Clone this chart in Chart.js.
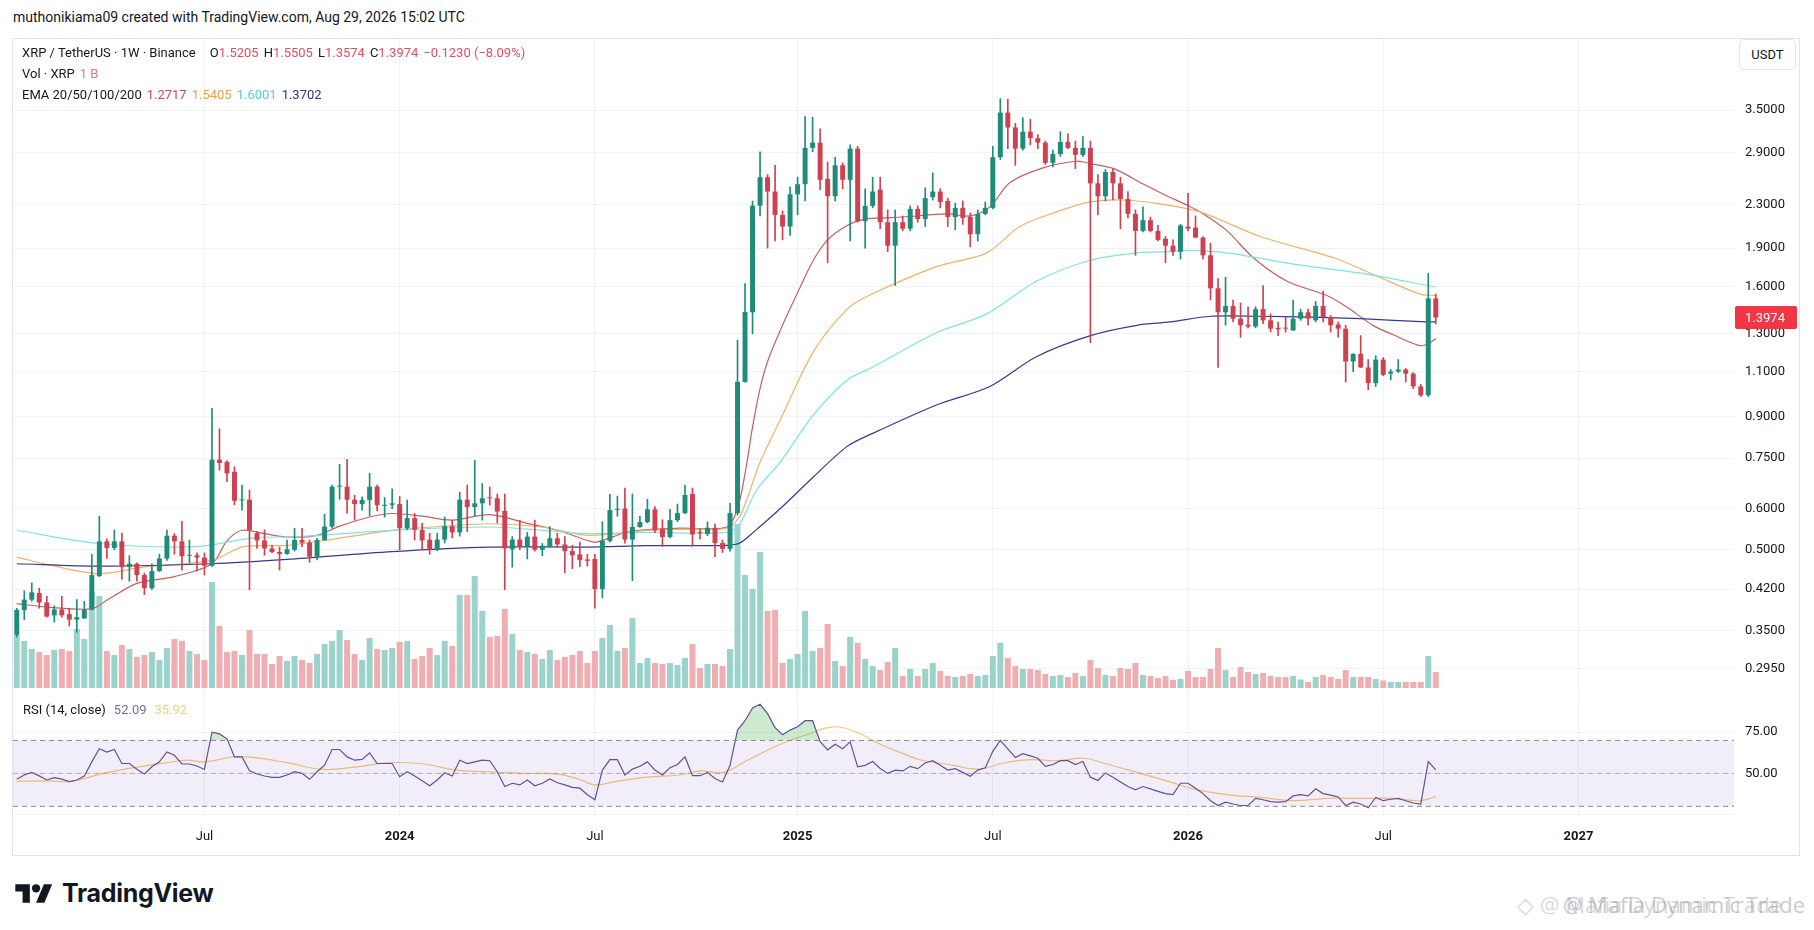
<!DOCTYPE html>
<html>
<head>
<meta charset="utf-8">
<script src="https://cdn.jsdelivr.net/npm/chart.js@4.4.1/dist/chart.umd.min.js"></script>
<style>
  body { margin: 0; background: #fff; font-family: Roboto, sans-serif; color: #131722; overflow: hidden; }
  .abs { position: absolute; white-space: nowrap; }
  #title { left: 13px; top: 9px; font-size: 14px; line-height: 17px; }
  #frame { left: 12px; top: 38px; width: 1786px; height: 816px; border: 1px solid #e0e3eb; }
  #price { left: 13px; top: 39px; }
  #rsi { left: 13px; top: 698px; }
  .leg { left: 22px; font-size: 13px; line-height: 16px; }
  .leg span { margin-left: 5px; }
  .dn { color: #e0505f; }
  #usdt { left: 1739px; top: 39px; width: 55px; height: 29px; border: 1px solid #e0e3eb; border-radius: 5px;
          background: #fff; font-size: 13px; line-height: 29px; text-align: center; }
  #logo { left: 15px; top: 878px; display: flex; align-items: center; }
  #logo b { font-family: Inter, sans-serif; font-weight: 700; font-size: 25px; margin-left: 9px; letter-spacing: -0.3px; }
  .wm { top: 890px; font-size: 22px; line-height: 28px; color: rgba(150,150,150,0.5); font-family: "Open Sans", sans-serif; }
</style>
</head>
<body>
<div id="title" class="abs">muthonikiama09 created with TradingView.com, Aug 29, 2026 15:02 UTC</div>
<div id="frame" class="abs"></div>
<canvas id="price" class="abs" width="1787" height="655"></canvas>
<canvas id="rsi" class="abs" width="1787" height="158"></canvas>
<div class="abs leg" style="top:45px">XRP / TetherUS · 1W · Binance<span style="margin-left:14px">O<b class="dn" style="font-weight:400">1.5205</b></span><span>H<b class="dn" style="font-weight:400">1.5505</b></span><span>L<b class="dn" style="font-weight:400">1.3574</b></span><span>C<b class="dn" style="font-weight:400">1.3974</b></span><span class="dn">−0.1230 (−8.09%)</span></div>
<div class="abs leg" style="top:66px">Vol · XRP<span style="color:#e07a85">1 B</span></div>
<div class="abs leg" style="top:87px">EMA 20/50/100/200<span style="color:#c84a55">1.2717</span><span style="color:#e8a24e">1.5405</span><span style="color:#4fd0d8">1.6001</span><span style="color:#2d3180">1.3702</span></div>
<div class="abs leg" style="top:702px;left:23px">RSI (14, close)<span style="color:#7a6d9e;margin-left:8px">52.09</span><span style="color:#f2cf7a;margin-left:8px">35.92</span></div>
<div id="usdt" class="abs">USDT</div>
<div id="logo" class="abs">
  <svg width="38" height="27" viewBox="0 0 36 26"><path d="M14 22H7V11H0V4h14v18z" fill="#131722"/><circle cx="20" cy="8" r="4" fill="#131722"/><path d="M28 22h-8l7.5-18h8L28 22z" fill="#131722"/></svg>
  <b>TradingView</b>
</div>
<div class="abs wm" style="left:1517px;color:rgba(150,150,150,0.38)">◇ @ Mafia Dynamic Trade</div>
<div class="abs wm" style="right:9px">@ Mafia Dynamic Trade</div>

<script>
// weekly candles, XRP/USDT, from week of 9 Jan 2023 (index 0) to 24 Aug 2026 (index 189)
const opens = [
  0.343,0.383,0.401,0.413,0.396,0.374,0.384,0.376,0.367,0.369,
  0.384,0.445,0.519,0.504,0.519,0.463,0.470,0.447,0.422,0.455,
  0.481,0.532,0.519,0.487,0.488,0.483,0.466,0.745,0.737,0.706,
  0.622,0.624,0.538,0.521,0.503,0.495,0.491,0.500,0.522,0.516,
  0.485,0.522,0.554,0.661,0.661,0.624,0.612,0.623,0.661,0.607,
  0.610,0.612,0.550,0.575,0.546,0.523,0.500,0.523,0.555,0.540,
  0.624,0.604,0.614,0.630,0.628,0.594,0.501,0.523,0.506,0.530,
  0.500,0.507,0.526,0.512,0.497,0.490,0.479,0.480,0.420,0.520,
  0.596,0.600,0.523,0.553,0.565,0.598,0.548,0.529,0.570,0.588,
  0.640,0.540,0.536,0.551,0.515,0.502,0.588,1.050,1.430,2.292,
  2.600,2.440,2.200,2.090,2.410,2.520,2.960,3.030,2.580,2.390,
  2.740,2.570,2.950,2.140,2.290,2.460,2.130,1.920,2.130,2.070,
  2.260,2.160,2.380,2.440,2.340,2.180,2.270,2.180,2.020,2.210,
  2.270,2.840,3.460,3.240,2.950,3.180,3.090,3.030,2.770,2.880,
  3.040,2.960,2.870,2.960,2.530,2.390,2.660,2.530,2.360,2.210,
  2.050,2.150,2.050,1.980,1.920,1.870,2.090,2.080,1.990,1.840,
  1.590,1.430,1.470,1.390,1.354,1.343,1.450,1.380,1.335,1.335,
  1.320,1.390,1.430,1.380,1.470,1.400,1.355,1.330,1.150,1.190,
  1.120,1.045,1.160,1.090,1.100,1.110,1.090,1.030,0.990,1.5205
];
const highs = [
  0.386,0.417,0.432,0.422,0.407,0.390,0.407,0.386,0.401,0.398,
  0.490,0.580,0.525,0.546,0.538,0.487,0.472,0.451,0.470,0.490,
  0.546,0.537,0.567,0.522,0.493,0.493,0.935,0.854,0.742,0.722,
  0.666,0.651,0.542,0.546,0.510,0.506,0.522,0.550,0.550,0.522,
  0.526,0.585,0.666,0.730,0.746,0.636,0.632,0.701,0.666,0.630,
  0.655,0.633,0.623,0.587,0.562,0.538,0.538,0.578,0.570,0.645,
  0.666,0.743,0.670,0.660,0.640,0.640,0.530,0.570,0.540,0.570,
  0.514,0.554,0.538,0.530,0.510,0.517,0.490,0.490,0.566,0.639,
  0.634,0.657,0.640,0.580,0.625,0.605,0.571,0.598,0.612,0.665,
  0.657,0.549,0.566,0.560,0.522,0.614,1.264,1.624,2.340,2.910,
  2.630,2.740,2.240,2.490,2.600,3.400,3.390,3.220,2.780,2.840,
  2.770,3.000,2.980,2.470,2.600,2.600,2.250,2.250,2.190,2.290,
  2.290,2.480,2.650,2.470,2.370,2.320,2.340,2.220,2.250,2.330,
  2.980,3.680,3.670,3.300,3.380,3.360,3.140,3.050,2.930,3.180,
  3.150,3.050,3.110,3.050,2.630,2.690,2.700,2.600,2.440,2.250,
  2.280,2.180,2.100,2.000,1.970,2.110,2.420,2.190,2.000,1.940,
  1.660,1.670,1.510,1.490,1.465,1.465,1.610,1.420,1.370,1.400,
  1.510,1.450,1.450,1.500,1.570,1.410,1.370,1.350,1.190,1.290,
  1.160,1.180,1.170,1.110,1.160,1.115,1.095,1.040,1.700,1.5505
];
const lows = [
  0.340,0.367,0.398,0.386,0.371,0.363,0.371,0.357,0.347,0.369,
  0.383,0.444,0.481,0.500,0.439,0.435,0.435,0.410,0.419,0.454,
  0.477,0.490,0.457,0.472,0.455,0.447,0.464,0.711,0.676,0.610,
  0.596,0.419,0.503,0.488,0.493,0.457,0.490,0.497,0.507,0.473,
  0.478,0.521,0.550,0.625,0.588,0.570,0.596,0.581,0.594,0.578,
  0.600,0.500,0.546,0.522,0.500,0.490,0.498,0.515,0.527,0.531,
  0.542,0.581,0.570,0.609,0.563,0.419,0.463,0.500,0.480,0.497,
  0.487,0.505,0.505,0.452,0.460,0.464,0.465,0.386,0.404,0.517,
  0.580,0.515,0.436,0.552,0.563,0.539,0.507,0.527,0.566,0.586,
  0.508,0.524,0.532,0.485,0.494,0.497,0.583,1.050,1.300,2.190,
  1.900,1.960,1.970,2.010,2.200,2.340,2.910,2.460,1.780,2.340,
  2.470,1.960,2.130,1.900,2.270,2.070,1.870,1.610,2.050,2.050,
  2.130,2.090,2.350,2.270,2.090,2.060,2.110,1.910,1.960,2.200,
  2.260,2.810,2.950,2.740,2.930,3.000,2.950,2.750,2.720,2.850,
  2.950,2.700,2.850,1.250,2.200,2.340,2.350,2.070,2.170,1.840,
  2.040,2.040,1.960,1.780,1.840,1.810,2.050,1.990,1.810,1.510,
  1.120,1.350,1.370,1.280,1.335,1.335,1.360,1.310,1.290,1.310,
  1.320,1.380,1.350,1.370,1.370,1.310,1.280,1.050,1.100,1.120,
  1.015,1.030,1.080,1.060,1.095,1.050,1.020,0.985,0.985,1.3574
];
const closes = [
  0.383,0.401,0.414,0.396,0.372,0.384,0.374,0.367,0.371,0.384,
  0.447,0.519,0.504,0.519,0.463,0.470,0.447,0.422,0.455,0.481,
  0.532,0.519,0.486,0.488,0.483,0.466,0.745,0.734,0.701,0.621,
  0.624,0.546,0.521,0.503,0.495,0.491,0.501,0.522,0.516,0.485,
  0.522,0.554,0.661,0.663,0.624,0.612,0.623,0.661,0.609,0.610,
  0.614,0.550,0.575,0.546,0.521,0.500,0.523,0.555,0.540,0.624,
  0.604,0.614,0.628,0.628,0.592,0.503,0.523,0.507,0.530,0.500,
  0.509,0.526,0.512,0.497,0.488,0.478,0.476,0.420,0.520,0.596,
  0.598,0.523,0.553,0.565,0.598,0.545,0.529,0.570,0.588,0.637,
  0.535,0.538,0.551,0.515,0.502,0.588,1.052,1.432,2.292,2.600,
  2.440,2.200,2.090,2.410,2.520,2.960,3.030,2.570,2.390,2.740,
  2.570,2.950,2.140,2.290,2.440,2.130,1.920,2.130,2.070,2.260,
  2.160,2.370,2.440,2.330,2.180,2.270,2.170,2.020,2.210,2.270,
  2.840,3.460,3.240,2.950,3.180,3.090,3.030,2.770,2.880,3.040,
  2.960,2.870,2.960,2.530,2.390,2.660,2.530,2.360,2.210,2.050,
  2.150,2.050,1.970,1.920,1.870,2.100,2.070,1.990,1.840,1.590,
  1.430,1.470,1.390,1.350,1.343,1.450,1.380,1.330,1.326,1.330,
  1.390,1.430,1.390,1.470,1.400,1.350,1.330,1.150,1.190,1.120,
  1.045,1.160,1.084,1.100,1.110,1.090,1.030,0.990,1.5205,1.3974
];
// volume, billions of XRP
const volumes = [
  5.3,4.7,3.9,3.6,3.3,3.8,3.9,3.7,5.9,4.9,
  9.6,9.2,3.7,3.3,4.3,3.9,3.1,3.3,3.6,2.8,
  4.0,4.9,4.7,3.7,3.4,2.8,10.6,6.2,3.6,3.7,
  3.3,5.8,3.4,3.4,2.4,3.2,2.7,3.2,2.8,2.5,
  3.4,4.4,4.7,5.8,4.8,3.4,2.8,5.0,3.9,3.8,
  4.0,4.6,4.7,2.9,3.2,4.0,3.3,4.7,4.2,9.3,
  9.3,11.2,7.7,5.1,5.2,7.9,5.4,3.8,3.6,3.4,
  2.9,3.8,2.8,3.1,3.3,3.7,2.5,3.7,5.0,6.3,
  3.7,4.0,7.0,2.5,3.0,2.5,2.4,2.5,2.3,3.0,
  4.4,2.0,2.4,2.4,2.2,3.9,16.4,11.3,9.9,13.6,
  7.7,7.8,2.5,2.9,3.4,7.7,3.7,4.0,6.4,2.7,
  2.2,5.1,4.5,2.9,2.2,1.8,2.6,4.0,1.2,1.9,
  1.2,1.9,2.5,1.7,1.2,1.1,1.2,1.4,1.2,1.3,
  3.2,4.5,3.0,2.2,1.9,1.9,1.8,1.4,1.2,1.3,
  1.1,1.5,1.2,2.8,2.0,1.3,1.2,2.0,1.9,2.5,
  1.3,1.2,1.0,1.2,0.8,0.9,1.7,1.1,1.1,1.9,
  4.0,1.8,1.1,2.1,1.6,1.4,1.5,1.2,1.1,1.1,
  1.2,0.85,0.6,1.1,1.3,1.1,0.9,1.8,1.1,1.1,
  1.1,0.9,0.75,0.6,0.6,0.6,0.6,0.6,3.2,1.6
];
// RSI(14) per candle
const rsi = [
  46.4,49,50.6,48.5,46,47.4,46.5,45,46,48.4,
  57,65,63,64.5,56,56,52.5,49.6,54,57,
  63,61,55.7,55.7,54.5,52.4,75,74,71,60,
  60,51.6,49.6,48.4,47.6,47.6,49,51,50,46.4,
  51,55,64.5,64.5,60,58,58.5,62.5,56,56,
  56,48,51,48.4,45.5,42.5,46,50.4,48.4,58,
  56,57,58,57.7,51,42,44,43,46,42.5,
  44,46.6,44.3,43,41.5,41,37,34,52,58.3,
  58.3,49,52.6,54.3,57,52,49,53.4,55.4,60,
  48.6,48.6,50.6,46.9,44.8,54.9,76.3,82,89.8,92,
  86.3,77.8,73.5,76.3,78.3,82,82,69.2,64.3,67.7,
  64.9,69.2,54,54.9,57.2,53,50,52,51.5,54.3,
  52.9,56.3,57.7,54.9,52,52.9,50.6,48.3,52,53.4,
  63.4,70,64.9,59.7,62,60.6,59.2,54.3,55.4,57.7,
  57.7,55.4,57.2,47.7,45.7,50.3,47.7,44.8,42,40,
  42,40.6,39.1,37.7,37.1,44,44,41,37.7,33.4,
  30.5,32.5,31.4,30.5,30.5,34.8,34,32.8,32.5,32.8,
  36.3,37.1,36.3,40.6,37.7,36.8,35.7,30.5,32.5,31.4,
  29.1,35.4,33.4,34.3,34.8,33.4,32,31.4,57.2,52.09
];
// RSI moving average, read at [candle index, value]
const rsiMa = [
  [0,45.2],[4.1,45.4],[7.1,45],[9.1,47],[11.1,49.6],[15,53],[20,56.5],[22.7,58],[25,57],[28.9,60],
  [31.5,59.7],[36,56.5],[40.8,52.4],[45.3,54],[49.7,56.5],[54.2,55.7],[58.6,52],[63,51],[67.5,50],[72,49.6],
  [75,46.3],[77,43],[79.5,44.8],[83.9,47.7],[88.3,49],[91,51.5],[94.1,50.6],[97.2,57.7],[101.7,67.7],[105.2,73.5],
  [108.8,78.3],[111.9,75],[115,67.7],[118.1,62],[120.3,58.3],[124.8,54.9],[127,52.9],[128.8,52.9],[131.4,56.3],[135,58.3],
  [138.5,57.7],[142.1,59.2],[144.7,56.3],[149.2,50.6],[153.6,44.8],[156.7,40.6],[161.2,37.1],[165.6,35.4],[170,33.4],[174.5,34.8],
  [178.9,34.8],[183.4,34.8],[186.9,33.4],[189,35.92]
];
// EMA lines, read at [candle index, price]
const ema20 = [
  [0,0.394],[4,0.388],[10,0.385],[12,0.400],[16,0.431],[21,0.444],[26,0.470],[28,0.52],[30,0.545],[33,0.537],
  [36,0.529],[40,0.533],[43,0.555],[47,0.578],[50,0.587],[54,0.58],[58,0.570],[63,0.584],[68,0.562],[72,0.545],
  [76,0.521],[77.2,0.517],[81.7,0.542],[88.3,0.55],[94.6,0.553],[96,0.60],[97,0.70],[98,0.86],[99,1.02],[100,1.15],
  [101.7,1.32],[104,1.56],[106.1,1.80],[108,1.97],[110.6,2.10],[113,2.16],[115,2.17],[118,2.18],[124,2.21],[127,2.19],
  [129.6,2.28],[132.3,2.54],[136.7,2.71],[141.2,2.79],[143,2.76],[146.1,2.70],[150.1,2.52],[153,2.40],[155.8,2.30],[157.6,2.23],
  [161.2,2.05],[164.7,1.82],[169.2,1.64],[174.5,1.54],[177.1,1.465],[180.7,1.348],[183.4,1.293],[186.7,1.235],[187.8,1.24],[189,1.2717]
];
const ema50 = [
  [0,0.484],[5,0.465],[11,0.450],[17,0.4635],[26,0.477],[30,0.506],[36,0.51],[41,0.521],[50,0.545],[57,0.555],
  [63,0.561],[70,0.553],[76,0.533],[84,0.545],[90,0.548],[94.6,0.55],[96.3,0.58],[97.5,0.64],[99,0.737],[101.7,0.889],
  [106.1,1.20],[110.6,1.45],[113.7,1.545],[122.5,1.75],[129.2,1.86],[133.6,2.09],[138.5,2.23],[143,2.33],[147.4,2.35],[152.3,2.31],
  [157.6,2.23],[165.6,2.0],[175.4,1.82],[181.1,1.68],[186.9,1.55],[189,1.5405]
];
const ema100 = [
  [0,0.545],[11,0.514],[24,0.507],[31.5,0.527],[37.7,0.53],[50,0.545],[63,0.553],[70,0.545],[76,0.537],[84,0.54],
  [94.6,0.54],[96.3,0.56],[98.5,0.65],[101.7,0.737],[106,0.904],[110.6,1.06],[113.7,1.116],[122.5,1.306],[129.2,1.42],[135.8,1.64],
  [143,1.80],[149.2,1.86],[153.6,1.87],[155.8,1.88],[161.2,1.86],[170,1.77],[179,1.70],[189,1.6001]
];
const ema200 = [
  [0,0.470],[11,0.465],[26,0.470],[36,0.479],[50,0.496],[63,0.506],[76,0.506],[84,0.509],[94.6,0.51],[96.3,0.515],
  [98.1,0.54],[101.7,0.60],[106.1,0.69],[110.6,0.79],[113.7,0.833],[122.5,0.949],[129.6,1.03],[135.8,1.175],[143,1.29],[149.2,1.35],
  [153.6,1.37],[159,1.405],[165.6,1.405],[172.3,1.40],[179,1.39],[187.8,1.37],[189,1.3702]
];
const priceTicks = [3.5, 2.9, 2.3, 1.9, 1.6, 1.3, 1.1, 0.9, 0.75, 0.6, 0.5, 0.42, 0.35, 0.295];
const monthTicks = [25, 51, 77, 104, 130, 156, 182, 208];
const monthLabels = ['Jul', '2024', 'Jul', '2025', 'Jul', '2026', 'Jul', '2027'];
const rsiLevels = [70, 50, 30];

Chart.defaults.font.family = 'Roboto';
Chart.defaults.color = '#131722';

const X_MIN = -0.5, X_MAX = 228.72;
const upCol = '#1f8c79', dnCol = '#cf4150';
const upVol = '#9bd3ca', dnVol = '#f0aeb2';
const gridCol = '#f0f2f6';
const candleCols = closes.map((c, i) => c >= opens[i] ? upCol : dnCol);
const pts = arr => arr.map(([x, y]) => ({ x, y }));

function xAxis(showLabels) {
  return {
    type: 'linear', min: X_MIN, max: X_MAX, bounds: 'data', offset: false,
    afterBuildTicks: s => { s.ticks = monthTicks.map(v => ({ value: v })); },
    ticks: {
      display: showLabels, autoSkip: false, maxRotation: 0, padding: 12,
      callback: v => monthLabels[monthTicks.indexOf(v)] || '',
      font: ctx => ({ family: 'Roboto', size: 13, weight: ctx.tick && /^\d{4}$/.test(monthLabels[monthTicks.indexOf(ctx.tick.value)]) ? 'bold' : 'normal' })
    },
    grid: { color: gridCol, drawTicks: false, offset: false },
    border: { display: false },
    afterFit: s => { s.height = showLabels ? 39 : 0; s.paddingLeft = 0; s.paddingRight = 0; }
  };
}

const lastTag = {
  id: 'lastTag',
  afterDraw(chart) {
    const last = closes[closes.length - 1];
    const y = chart.scales.y.getPixelForValue(last);
    const x0 = chart.chartArea.right + 1;
    const ctx = chart.ctx;
    ctx.save();
    ctx.fillStyle = '#f23645';
    ctx.beginPath();
    ctx.roundRect(x0, y - 11.5, 62, 23, 2);
    ctx.fill();
    ctx.fillStyle = '#fff';
    ctx.font = '13px Roboto';
    ctx.textBaseline = 'middle';
    ctx.fillText(last.toFixed(4), x0 + 10, y + 1);
    ctx.restore();
  }
};

const emaLine = (label, data, color) => ({
  type: 'line', label, data: pts(data), yAxisID: 'y', borderColor: color,
  borderWidth: 1.2, pointRadius: 0, tension: 0.3, order: 5
});

new Chart(document.getElementById('price'), {
  type: 'bar',
  data: {
    datasets: [
      {
        label: 'Vol', yAxisID: 'vol', order: 10, grouped: false,
        data: volumes.map((v, i) => ({ x: i, y: v })),
        backgroundColor: closes.map((c, i) => c >= opens[i] ? upVol : dnVol),
        barPercentage: 0.8, categoryPercentage: 1
      },
      emaLine('EMA 200', ema200, '#363a88'),
      emaLine('EMA 100', ema100, '#7ee3e6'),
      emaLine('EMA 50', ema50, '#f1b168'),
      emaLine('EMA 20', ema20, '#c45f5f'),
      {
        label: 'wick', yAxisID: 'y', order: 2, grouped: false,
        data: highs.map((h, i) => ({ x: i, y: [lows[i], h] })),
        backgroundColor: candleCols, barThickness: 1
      },
      {
        label: 'body', yAxisID: 'y', order: 1, grouped: false,
        data: opens.map((o, i) => ({ x: i, y: [o, closes[i]] })),
        backgroundColor: candleCols, barPercentage: 0.66, categoryPercentage: 1, minBarLength: 1
      }
    ]
  },
  options: {
    responsive: false, animation: false, devicePixelRatio: 1, events: [],
    layout: { padding: 0 },
    plugins: { legend: { display: false }, tooltip: { enabled: false } },
    scales: {
      x: xAxis(false),
      y: {
        type: 'logarithmic', position: 'right', min: 0.2641, max: 4.792, bounds: 'data',
        afterBuildTicks: s => { s.ticks = priceTicks.map(v => ({ value: v })); },
        ticks: { autoSkip: false, padding: 11, font: { size: 13 }, callback: v => Number(v).toFixed(4) },
        grid: { color: gridCol, drawTicks: false },
        border: { display: false },
        afterFit: s => { s.width = 66; s.paddingTop = 0; s.paddingBottom = 0; }
      },
      vol: { type: 'linear', display: false, min: -0.6, max: 64.9 }
    }
  },
  plugins: [lastTag]
});

const level = (v, extra) => Object.assign({
  type: 'line', data: [{ x: X_MIN, y: v }, { x: X_MAX, y: v }],
  borderColor: '#8a8d96', borderWidth: 1, borderDash: [5, 4], pointRadius: 0, fill: false
}, extra);

new Chart(document.getElementById('rsi'), {
  type: 'line',
  data: {
    datasets: [
      level(rsiLevels[0], { fill: '+1', backgroundColor: 'rgba(126,87,194,0.1)' }),
      level(rsiLevels[2]),
      level(rsiLevels[1], { borderColor: 'rgba(138,141,150,0.6)' }),
      {
        label: 'RSI', data: rsi.map((v, i) => ({ x: i, y: v })),
        borderColor: '#5e5191', borderWidth: 1.2, pointRadius: 0, tension: 0,
        fill: { target: { value: 70 }, above: 'rgba(76,175,80,0.28)', below: 'rgba(0,0,0,0)' }
      },
      {
        label: 'RSI MA', data: pts(rsiMa),
        borderColor: '#f4c870', borderWidth: 1.2, pointRadius: 0, tension: 0.4, fill: false
      }
    ]
  },
  options: {
    responsive: false, animation: false, devicePixelRatio: 1, events: [],
    layout: { padding: 0 },
    plugins: { legend: { display: false }, tooltip: { enabled: false } },
    scales: {
      x: xAxis(true),
      y: {
        type: 'linear', position: 'right', min: 23.5, max: 95.8, bounds: 'data',
        afterBuildTicks: s => { s.ticks = [25, 50, 75].map(v => ({ value: v })); },
        ticks: { autoSkip: false, padding: 11, font: { size: 13 }, callback: v => v === 25 ? '' : v.toFixed(2) },
        grid: { color: gridCol, drawTicks: false },
        border: { display: false },
        afterFit: s => { s.width = 66; s.paddingTop = 0; s.paddingBottom = 0; }
      }
    }
  }
});
</script>
</body>
</html>
